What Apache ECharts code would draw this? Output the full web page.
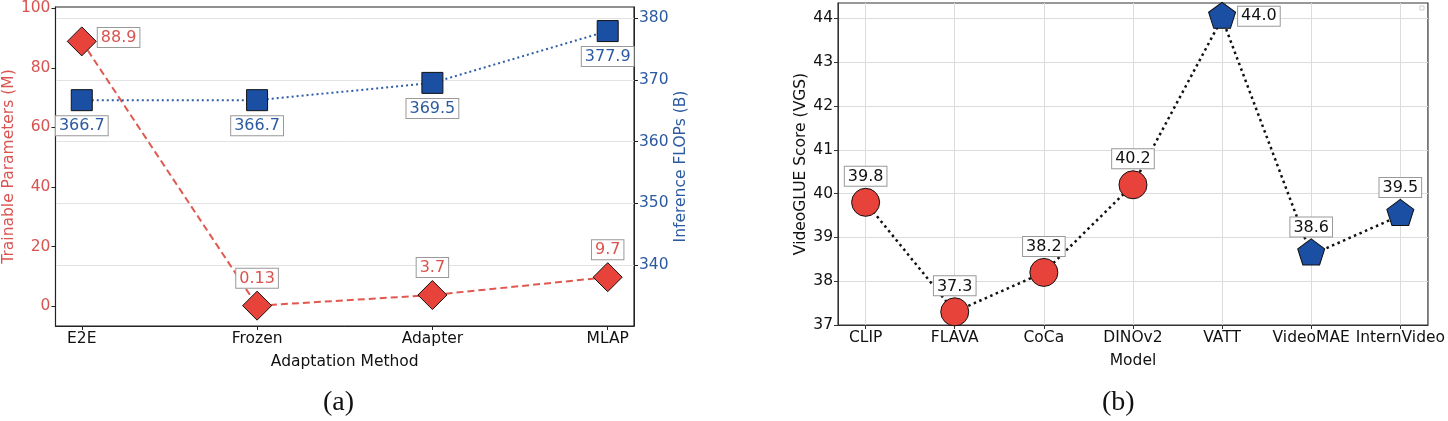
<!DOCTYPE html>
<html>
<head>
<meta charset="utf-8">
<script src="https://cdn.jsdelivr.net/npm/echarts@6/dist/echarts.min.js"></script>
<style>
  html, body { margin: 0; padding: 0; background: #fff; }
  #chart { width: 1448px; height: 421px; }
</style>
</head>
<body>
<div id="chart"></div>
<script>
// (a) adaptation methods
const methods = ['E2E', 'Frozen', 'Adapter', 'MLAP'];
const trainParams = [88.9, 0.13, 3.7, 9.7];
const trainLabels = ['88.9', '0.13', '3.7', '9.7'];
const flops = [366.7, 366.7, 369.5, 377.9];
const paramTicks = [0, 20, 40, 60, 80, 100];
const flopTicks = [340, 350, 360, 370, 380];

// (b) models
const models = ['CLIP', 'FLAVA', 'CoCa', 'DINOv2', 'VATT', 'VideoMAE', 'InternVideo'];
const vgs = [39.8, 37.3, 38.2, 40.2, 44.0, 38.6, 39.5];
const modelKind = ['image', 'image', 'image', 'image', 'video', 'video', 'video'];
const vgsTicks = [37, 38, 39, 40, 41, 42, 43, 44];

const RED = '#e8433a';
const RED_TXT = '#d9534f';
const BLUE = '#1b4fa3';
const BLUE_TXT = '#2c5aa0';
const FONT = 'DejaVu Sans';
const pentagon = 'path://M0,-1L0.951,-0.309L0.588,0.809L-0.588,0.809L-0.951,-0.309Z';

const boxLabel = {
    show: true,
    fontFamily: FONT,
    fontSize: 16,
    backgroundColor: '#fff',
    borderColor: '#999',
    borderWidth: 1,
    padding: [2, 3, 1, 3]
};

let chart = echarts.init(document.getElementById('chart'));

let option = {
    animation: false,
    textStyle: { fontFamily: FONT },
    grid: [
        { left: 53, top: 7, width: 581, height: 319, show: true, borderColor: '#222', borderWidth: 1.2 },
        { left: 838, top: 3, width: 590, height: 322, show: true, borderColor: '#333', borderWidth: 1.2 }
    ],
    xAxis: [
        {
            gridIndex: 0, type: 'value', min: -0.15, max: 3.15,
            name: 'Adaptation Method', nameLocation: 'middle', nameGap: 28,
            nameTextStyle: { color: '#111', fontSize: 15.5, fontFamily: FONT },
            axisLine: { show: true, onZero: false, lineStyle: { color: '#222' } },
            axisTick: { show: true, customValues: [0, 1, 2, 3], length: 4, lineStyle: { color: '#222' } },
            axisLabel: {
                customValues: [0, 1, 2, 3], color: '#111', fontSize: 15.5, margin: 5,
                formatter: v => methods[v]
            },
            splitLine: { show: false }
        },
        {
            gridIndex: 1, type: 'value', min: -0.31, max: 6.31,
            name: 'Model', nameLocation: 'middle', nameGap: 28,
            nameTextStyle: { color: '#111', fontSize: 15.5, fontFamily: FONT },
            axisLine: { show: true, onZero: false, lineStyle: { color: '#333' } },
            axisTick: { show: true, customValues: [0, 1, 2, 3, 4, 5, 6], length: 4, lineStyle: { color: '#333' } },
            axisLabel: {
                customValues: [0, 1, 2, 3, 4, 5, 6], color: '#111', fontSize: 15.5, margin: 5,
                formatter: v => models[v]
            },
            splitLine: { show: true, lineStyle: { color: '#dcdcdc', width: 1 } }
        }
    ],
    yAxis: [
        {
            gridIndex: 0, type: 'value', min: -6.7, max: 100.45, position: 'left',
            name: 'Trainable Parameters (M)', nameLocation: 'middle', nameGap: 37, nameRotate: 90,
            nameTextStyle: { color: RED_TXT, fontSize: 15.5, fontFamily: FONT },
            axisLine: { show: true, onZero: false, lineStyle: { color: '#222' } },
            axisTick: { show: true, customValues: paramTicks, length: 4, lineStyle: { color: '#222' } },
            axisLabel: { customValues: paramTicks, color: RED_TXT, fontSize: 15.5, margin: 5 },
            splitLine: { show: false }
        },
        {
            gridIndex: 0, type: 'value', min: 330.1, max: 381.8, position: 'right',
            name: 'Inference FLOPs (B)', nameLocation: 'middle', nameGap: 37, nameRotate: 90,
            nameTextStyle: { color: BLUE_TXT, fontSize: 15.5, fontFamily: FONT },
            axisLine: { show: true, onZero: false, lineStyle: { color: '#222' } },
            axisTick: { show: true, customValues: flopTicks, length: 4, lineStyle: { color: '#222' } },
            axisLabel: { customValues: flopTicks, color: BLUE_TXT, fontSize: 15.5, margin: 5 },
            splitLine: { show: true, lineStyle: { color: '#e2e2e2', width: 1 } }
        },
        {
            gridIndex: 1, type: 'value', min: 37, max: 44.35,
            name: 'VideoGLUE Score (VGS)', nameLocation: 'middle', nameGap: 29, nameRotate: 90,
            nameTextStyle: { color: '#111', fontSize: 15.5, fontFamily: FONT },
            axisLine: { show: true, onZero: false, lineStyle: { color: '#333' } },
            axisTick: { show: true, customValues: vgsTicks, length: 4, lineStyle: { color: '#333' } },
            axisLabel: { customValues: vgsTicks, color: '#111', fontSize: 15.5, margin: 5 },
            splitLine: { show: true, lineStyle: { color: '#dcdcdc', width: 1 } }
        }
    ],
    series: [
        {
            name: 'Trainable Parameters',
            type: 'line', xAxisIndex: 0, yAxisIndex: 0,
            data: trainParams.map((v, i) => {
                let item = { value: [i, v] };
                if (i === 0) item.label = { position: 'right', distance: 1, offset: [0, -4] };
                return item;
            }),
            symbol: 'diamond', symbolSize: 29,
            itemStyle: { color: RED, borderColor: '#111', borderWidth: 1 },
            lineStyle: { color: '#e0584f', width: 2, type: [7, 4] },
            label: {
                ...boxLabel, color: RED_TXT, position: 'top', distance: 3,
                formatter: p => trainLabels[p.dataIndex]
            },
            z: 3
        },
        {
            name: 'Inference FLOPs',
            type: 'line', xAxisIndex: 0, yAxisIndex: 1,
            data: flops.map((v, i) => [i, v]),
            symbol: 'rect', symbolSize: 21,
            itemStyle: { color: BLUE, borderColor: '#111', borderWidth: 1 },
            lineStyle: { color: '#2e5ea8', width: 2, type: [2, 3] },
            label: {
                ...boxLabel, color: BLUE_TXT, position: 'bottom', distance: 5,
                formatter: p => p.value[1].toFixed(1)
            },
            z: 4
        },
        {
            name: 'VGS',
            type: 'line', xAxisIndex: 1, yAxisIndex: 2,
            data: vgs.map((v, i) => {
                let isVideo = modelKind[i] === 'video';
                let item = {
                    value: [i, v],
                    symbol: isVideo ? pentagon : 'circle',
                    symbolSize: isVideo ? [27, 26] : 28,
                    symbolOffset: isVideo ? [0, -3] : [0, 0],
                    itemStyle: { color: isVideo ? BLUE : RED }
                };
                if (models[i] === 'VATT') item.label = { position: 'right', distance: 2, offset: [0, 1] };
                return item;
            }),
            itemStyle: { borderColor: '#111', borderWidth: 1 },
            lineStyle: { color: '#111', width: 2.5, type: [2.5, 3.5] },
            label: {
                ...boxLabel, color: '#111', position: 'top', distance: 2,
                formatter: p => p.value[1].toFixed(1)
            },
            z: 3
        }
    ],
    graphic: [
        {
            type: 'text', left: 323, top: 389,
            style: { text: '(a)', font: '28px "Liberation Serif"', fill: '#111' }
        },
        {
            type: 'text', left: 1102, top: 389,
            style: { text: '(b)', font: '28px "Liberation Serif"', fill: '#111' }
        },
        {
            type: 'rect', shape: { x: 1420, y: 6, width: 4, height: 4 },
            style: { fill: '#fff', stroke: '#ccc', lineWidth: 1 }
        }
    ]
};

chart.setOption(option);
</script>
</body>
</html>
